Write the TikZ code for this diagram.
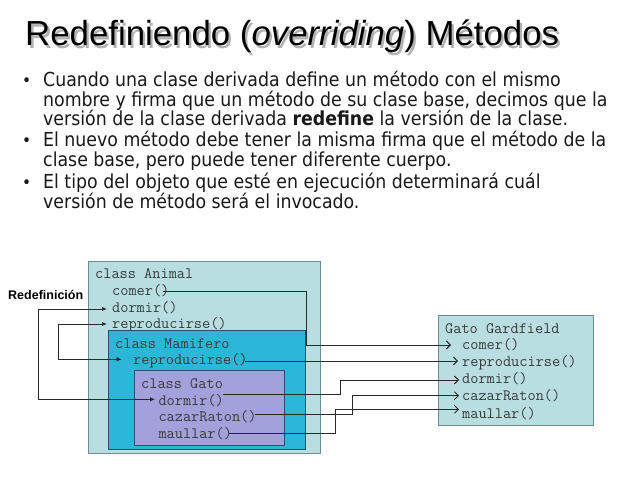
\documentclass[tikz,border=0pt]{standalone}
\usepackage{fontspec}
\setmainfont{Liberation Sans}
\newfontfamily\bodyfont{DejaVu Sans Condensed}
\usetikzlibrary{arrows.meta}
\definecolor{animalfill}{HTML}{B8DEE2}
\definecolor{mamfill}{HTML}{2CB7D8}
\definecolor{gatofill}{HTML}{A3A1DC}
\definecolor{darkline}{HTML}{24506A}
\definecolor{lightline}{HTML}{6E8E96}
\definecolor{codecol}{HTML}{3A3A3A}
\definecolor{conncol}{HTML}{2A2A2A}
\begin{document}
\begin{tikzpicture}[x=1pt,y=-1pt,
  titletext/.style={font=\fontsize{34.8}{36}\selectfont, inner sep=0pt, anchor=base west},
  code/.style={font=\ttfamily\fontsize{15.87}{16}\selectfont, text=codecol, inner sep=0pt, anchor=base west},
  bodyline/.style={font=\bodyfont\fontsize{19.3}{19.5}\selectfont, text=black!90, inner sep=0pt, anchor=base west},
  bulletdot/.style={font=\bodyfont\fontsize{17}{17}\selectfont, text=black!90, inner sep=0pt, anchor=base},
  classbox/.style={line width=1pt, inner sep=0pt, anchor=north west},
  conn/.style={draw=conncol, line width=0.9pt, -{Straight Barb[length=4pt,width=8pt]}},
  redef/.style={draw=conncol, line width=0.9pt, {Latex[length=5pt,width=4.5pt]}-{Latex[length=5pt,width=4.5pt]}},
]
\useasboundingbox (0,0) rectangle (638,478);
\fill[white] (0,0) rectangle (638,478);

% title with shadow
\node[titletext, text=black!30] (titleshadow) at (27.3,48.3) {Redefiniendo (\textit{overriding}) Métodos};
\node[titletext, text=black] (title) at (25,46) {Redefiniendo (\textit{overriding}) Métodos};

% bullets
\node[bulletdot] (b1) at (26.7,87) {•};
\node[bodyline] (l1) at (43,87) {Cuando una clase derivada define un método con el mismo};
\node[bodyline] (l2) at (43,106.5) {nombre y firma que un método de su clase base, decimos que la};
\node[bodyline] (l3) at (43,126) {versión de la clase derivada \textbf{redefine} la versión de la clase.};
\node[bulletdot] (b2) at (26.7,147) {•};
\node[bodyline] (l4) at (43,147) {El nuevo método debe tener la misma firma que el método de la};
\node[bodyline] (l5) at (43,166.7) {clase base, pero puede tener diferente cuerpo.};
\node[bulletdot] (b3) at (26.7,189) {•};
\node[bodyline] (l6) at (43,189) {El tipo del objeto que esté en ejecución determinará cuál};
\node[bodyline] (l7) at (43,208.5) {versión de método será el invocado.};

% class Animal
\node[classbox, draw=lightline, fill=animalfill, minimum width=232pt, minimum height=192pt] (animal) at (88,261) {};
\node[code] (animalT) at (95,278.3) {class Animal};
\node[code] (comerA) at (112,295.7) {comer()};
\node[code] (dormirA) at (112,312.7) {dormir()};
\node[code] (reproA) at (112,328.7) {reproducirse()};

% class Mamifero
\node[classbox, draw=darkline, fill=mamfill, minimum width=197pt, minimum height=119pt] (mam) at (108,330) {};
\node[code] (mamT) at (115,348.3) {class Mamifero};
\node[code] (reproM) at (133,365) {reproducirse()};

% class Gato
\node[classbox, draw=darkline, fill=gatofill, minimum width=150pt, minimum height=75pt] (gato) at (134,370) {};
\node[code] (gatoT) at (141,388.3) {class Gato};
\node[code] (dormirG) at (158.3,405.3) {dormir()};
\node[code] (cazarG) at (158.3,421.7) {cazarRaton()};
\node[code] (maullarG) at (158.3,438.3) {maullar()};

% Gato Gardfield
\node[classbox, draw=lightline, fill=animalfill, minimum width=155pt, minimum height=110pt] (gard) at (438,315) {};
\node[code] (gardT) at (445,333.3) {Gato Gardfield};
\node[code] (comerF) at (462,350) {comer()};
\node[code] (reproF) at (462,366.7) {reproducirse()};
\node[code] (dormirF) at (462,383.3) {dormir()};
\node[code] (cazarF) at (462,401) {cazarRaton()};
\node[code] (maullarF) at (462,418.3) {maullar()};

% label
\node[font=\bfseries\fontsize{12.5}{13}\selectfont, inner sep=0pt, anchor=base west] (redefL) at (8,299.3) {Redefinición};

% connectors to Gato Gardfield
\coordinate (cA) at ([xshift=-7pt,yshift=4.7pt]comerA.base east);
\coordinate (cF) at ([xshift=-11pt,yshift=5pt]comerF.base west);
\draw[conn] (cA) -| (mam.east |- cF) -- (cF);

\draw[conn] ([xshift=-3pt,yshift=4pt]reproM.base east) -- ([xshift=-4pt,yshift=5.7pt]reproF.base west);

\coordinate (bd) at (340.7,0);
\coordinate (dG) at ([xshift=-1pt,yshift=11pt]dormirG.base east);
\coordinate (dF) at ([xshift=-3pt,yshift=3.3pt]dormirF.base west);
\draw[conn] (dG) -| (bd |- dF) -- (dF);

\coordinate (bc) at (352.7,0);
\coordinate (cG) at ([xshift=-1.7pt,yshift=7.4pt]cazarG.base east);
\coordinate (cFz) at ([xshift=-3pt,yshift=5.3pt]cazarF.base west);
\draw[conn] (cG) -| (bc |- cFz) -- (cFz);

\coordinate (bm) at (335,0);
\coordinate (mG) at ([xshift=-3pt,yshift=5pt]maullarG.base east);
\coordinate (mF) at ([xshift=-3pt,yshift=9pt]maullarF.base west);
\draw[conn] (mG) -| (bm |- mF) -- (mF);

% redefinition arrows
\coordinate (la) at (38,0);
\coordinate (rA1) at ([xshift=-5pt,yshift=3.7pt]dormirA.base west);
\coordinate (rA2) at ([xshift=-3.3pt,yshift=6pt]dormirG.base west);
\draw[redef] (rA1) -- (la |- rA1) -- (la |- rA2) -- (rA2);

\coordinate (lb) at (58,0);
\coordinate (rB1) at ([xshift=-5pt,yshift=4.7pt]reproA.base west);
\coordinate (rB2) at ([xshift=-11.3pt,yshift=5.7pt]reproM.base west);
\draw[redef] (rB1) -- (lb |- rB1) -- (lb |- rB2) -- (rB2);
\end{tikzpicture}
\end{document}
